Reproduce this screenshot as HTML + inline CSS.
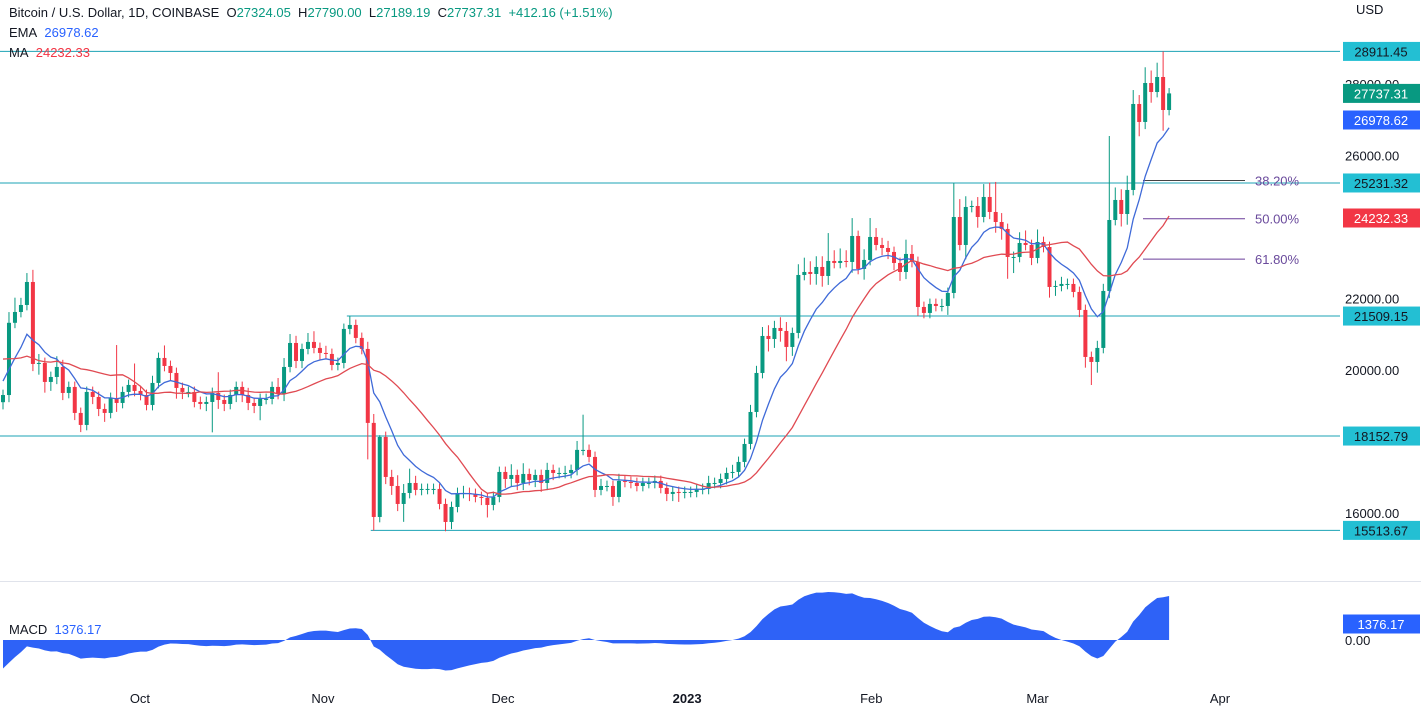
<!DOCTYPE html>
<html><head><meta charset="utf-8"><style>
html,body{margin:0;padding:0;background:#fff;}
body{width:1421px;height:713px;overflow:hidden;font-family:"Liberation Sans",sans-serif;}
svg text{font-family:"Liberation Sans",sans-serif;}
</style></head><body>
<svg id="chart" width="1421" height="713" xmlns="http://www.w3.org/2000/svg">
<g id="grid"></g>
<g id="levels"></g>
<g id="candles"></g>
<g id="lines"></g>
<g id="macd"></g>
<g id="axis"></g>
<g id="header"></g>
</svg>
<script>
const priorCloses=[23800,23200,23150,23950,23900,24400,24300,24100,23900,23350,23200,20850,21150,21550,21400,21500,21350,21550,20250,20050,19550,20300,20050,20150,19950,19830,20000,19800,19650,19950,18800];
const closes=[19300,21320,21623,21819,22462,20169,20197,19666,19805,20085,
19358,19526,18799,18463,19386,19246,18910,18799,19218,19078,
19386,19582,19414,19302,19022,19638,20337,20113,19917,19498,
19386,19386,19106,19050,19106,19358,19162,19050,19302,19526,
19302,19078,18994,19190,19190,19526,19330,20085,20756,20253,
20589,20785,20617,20477,20449,20141,20197,21149,21260,20897,
20589,18520,15889,18127,17008,16756,16253,16560,16840,16645,
16673,16673,16673,16253,15749,16169,16560,16560,16533,16449,
16421,16225,16449,17148,16952,17064,16840,17092,16924,17064,
16840,17204,17120,17120,17120,17204,17765,17765,17568,16645,
16756,16756,16449,16897,16869,16840,16756,16840,16840,16897,
16701,16533,16589,16560,16589,16589,16673,16673,16840,16840,
16952,17120,17148,17428,17931,18826,19917,20952,20868,21176,
21092,20645,21036,22658,22742,22686,22882,22630,23050,22994,
23050,23022,23749,22827,23078,23721,23497,23413,23302,22994,
22742,23246,23022,21763,21596,21848,21791,21791,22155,24280,
23497,24560,24588,24280,24840,24420,24140,23945,23162,23162,
23553,23497,23134,23581,23441,22323,22351,22407,22407,22183,
21680,20365,20225,20617,22211,24196,24756,24364,25036,27441,
26938,28028,27776,28196,27273,27737];
const firstOpen=19100;
const upWick=[150,300,400,200,250,340,250,150,150,300,
200,150,150,150,150,150,150,150,150,1480,
150,150,600,150,150,200,150,350,150,150,
150,150,150,150,150,150,580,150,150,150,
150,200,150,150,150,150,250,250,250,200,
150,250,300,150,200,150,150,150,250,150,
150,200,250,50,150,200,300,250,400,200,
150,150,150,150,150,150,150,200,150,150,
150,150,150,150,150,300,150,300,150,150,
150,200,150,150,200,150,250,985,150,150,
200,150,150,200,150,150,150,150,150,150,
150,150,150,150,150,150,150,150,200,150,
150,150,200,150,150,200,200,250,300,200,
300,250,150,300,400,300,300,300,780,300,
350,300,500,150,300,530,250,200,200,150,
150,400,250,150,150,150,150,200,150,950,
500,300,150,250,360,400,840,250,150,150,
300,350,150,350,150,150,150,200,150,150,
150,150,150,200,200,2350,350,300,400,390,
250,440,350,400,715,150];
const dnWick=[200,200,150,150,150,200,300,300,250,200,
200,150,200,200,150,200,200,250,150,250,
150,150,150,150,150,150,150,150,200,300,
200,150,150,150,200,850,250,200,150,200,
200,200,200,400,150,150,150,200,150,200,
200,150,150,200,150,150,150,150,150,150,
150,1020,380,150,200,250,200,500,150,150,
150,150,150,150,260,200,150,150,200,150,
200,350,150,150,250,200,200,200,150,200,
250,200,200,150,150,150,150,150,150,200,
150,150,250,150,150,150,150,150,150,150,
150,200,200,250,150,150,150,150,150,150,
150,150,150,150,150,150,150,150,350,250,
300,400,250,150,150,300,300,300,250,150,
150,150,300,150,300,150,150,200,200,200,
250,200,150,250,150,150,150,150,250,150,
150,400,150,300,150,200,300,300,610,450,
150,150,200,150,150,300,250,150,150,150,
200,300,645,300,150,200,150,350,300,150,
400,200,300,150,580,150];
const levelPrices=[28911.45,25231.32,21509.15,18152.79,15513.67];
const levelLabels=["28911.45","25231.32","21509.15","18152.79","15513.67"];
const levelStartIdx=[-1,-1,57.5,-1,61.5];
const tickPrices=[28000,26000,22000,20000,16000];
const tickLabels=["28000.00","26000.00","22000.00","20000.00","16000.00"];
const fibPrices=[25300,24232,23100];
const fibLabels=["38.20%","50.00%","61.80%"];
const monthLabels=["Oct","Nov","Dec","2023","Feb","Mar","Apr"];
const monthIdx=[22.9,53.5,83.6,114.4,145.2,173,203.5];

const NS="http://www.w3.org/2000/svg";
const X=i=>3+i*5.98;
const Y=p=>84+(28000-p)*0.03575;
const MY=v=>640-v*0.032;
function mk(tag,attrs,parent){const e=document.createElementNS(NS,tag);for(const k in attrs)e.setAttribute(k,attrs[k]);parent.appendChild(e);return e;}
const G=id=>document.getElementById(id);

levelPrices.forEach((p,k)=>{
  const x0=levelStartIdx[k]<0?0:X(levelStartIdx[k]);
  const l=mk('line',{x1:x0,x2:1340,y1:Y(p),y2:Y(p),stroke:'#1ba3b5','stroke-width':1},G('levels'));
  
  
});
fibPrices.forEach((p,k)=>{
  const l=mk('line',{x1:1143,x2:1245,y1:Y(p),y2:Y(p),stroke:k==0?'#444':'#6a3d9a','stroke-width':1},G('levels'));
  
  
  const t=mk('text',{x:1255,y:Y(p)+5,'font-size':13,fill:'#6a4a9c'},G('levels'));
  t.textContent=fibLabels[k];
  
  
});

closes.forEach((c,i)=>{
  const o=i==0?firstOpen:closes[i-1];
  const up=c>=o;
  const col=up?'#089981':'#f23645';
  const hi=Math.max(o,c)+upWick[i], lo=Math.min(o,c)-dnWick[i];
  const g=mk('g',{},G('candles'));
  
  
  mk('line',{x1:X(i),x2:X(i),y1:Y(hi),y2:Y(lo),stroke:col,'stroke-width':1},g);
  const yt=Y(Math.max(o,c)), yb=Y(Math.min(o,c));
  mk('rect',{x:X(i)-2,y:yt,width:4,height:Math.max(1,yb-yt),fill:col},g);
});

const all=priorCloses.concat(closes);
const off=priorCloses.length;
function ema(arr,n){const k=2/(n+1);let e=arr[0];return arr.map(v=>(e=v*k+e*(1-k)));}
const ema9=ema(all,9).slice(off);
const sma20=all.map((v,i)=>{const s=all.slice(Math.max(0,i-19),i+1);return s.reduce((a,b)=>a+b,0)/s.length;}).slice(off);
const pe=mk('path',{d:ema9.map((v,i)=>(i?'L':'M')+X(i)+','+Y(v)).join(''),fill:'none',stroke:'#3f6ad8','stroke-width':1.3},G('lines'));


const pm=mk('path',{d:sma20.map((v,i)=>(i?'L':'M')+X(i)+','+Y(v)).join(''),fill:'none',stroke:'#e04a52','stroke-width':1.3},G('lines'));



const e12=ema(all,12),e26=ema(all,26);
const macd=all.map((v,i)=>e12[i]-e26[i]).slice(off);
const last=closes.length-1;
let d='M'+X(0)+','+MY(0)+macd.map((v,i)=>'L'+X(i)+','+MY(v)).join('')+'L'+X(last)+','+MY(0)+'Z';
const ma=mk('path',{d:d,fill:'#2e62f7'},G('macd'));


const sep=mk('line',{x1:0,x2:1421,y1:581.5,y2:581.5,stroke:'#e0e3eb'},G('macd'));



tickPrices.forEach((p,k)=>{
  const t=mk('text',{x:1345,y:Y(p)+5,'font-size':13,fill:'#131722'},G('axis'));
  t.textContent=tickLabels[k];
  
  
});
function tag(label,p,bg,name,yy){
  const y=yy!==undefined?yy:Y(p);
  const g=mk('g',{},G('axis'));
  
  
  mk('rect',{x:1343,y:y-9.5,width:77,height:19,fill:bg},g);
  const t=mk('text',{x:1381,y:y+5,'font-size':13,fill:bg=='#23bfd3'?'#131722':'#fff','text-anchor':'middle'},g);
  t.textContent=label;
}
levelPrices.forEach((p,k)=>tag(levelLabels[k],p,'#23bfd3','level-price-tag'));
tag('27737.31',closes[last],'#089981','last-price-tag');
tag('26978.62',ema9[last],'#2962ff','ema-price-tag',120);
tag('24232.33',sma20[last],'#f23645','ma-price-tag',218);
tag('1376.17',0,'#2962ff','macd-value-tag',624);
const z=mk('text',{x:1345,y:645,'font-size':13,fill:'#131722'},G('axis'));z.textContent='0.00';


const usd=mk('text',{x:1356,y:14,'font-size':13,fill:'#131722'},G('axis'));usd.textContent='USD';



monthLabels.forEach((m,k)=>{
  const t=mk('text',{x:X(monthIdx[k]),y:703,'font-size':13,fill:'#131722','text-anchor':'middle','font-weight':m=='2023'?'bold':'normal'},G('axis'));
  t.textContent=m;
  
  
});
</script>
<div style="position:absolute;left:9px;top:3px;font-size:13px;line-height:20px;color:#131722;">
<div>Bitcoin / U.S. Dollar, 1D, COINBASE&nbsp;&nbsp;O<span style="color:#089981">27324.05</span>&nbsp;&nbsp;H<span style="color:#089981">27790.00</span>&nbsp;&nbsp;L<span style="color:#089981">27189.19</span>&nbsp;&nbsp;C<span style="color:#089981">27737.31</span>&nbsp;&nbsp;<span style="color:#089981">+412.16 (+1.51%)</span></div>
<div>EMA&nbsp;&nbsp;<span style="color:#2962ff">26978.62</span></div>
<div>MA&nbsp;&nbsp;<span style="color:#f23645">24232.33</span></div>
</div>
<div style="position:absolute;left:9px;top:622px;font-size:13px;color:#131722;">MACD&nbsp;&nbsp;<span style="color:#2962ff">1376.17</span></div>
</body></html>
